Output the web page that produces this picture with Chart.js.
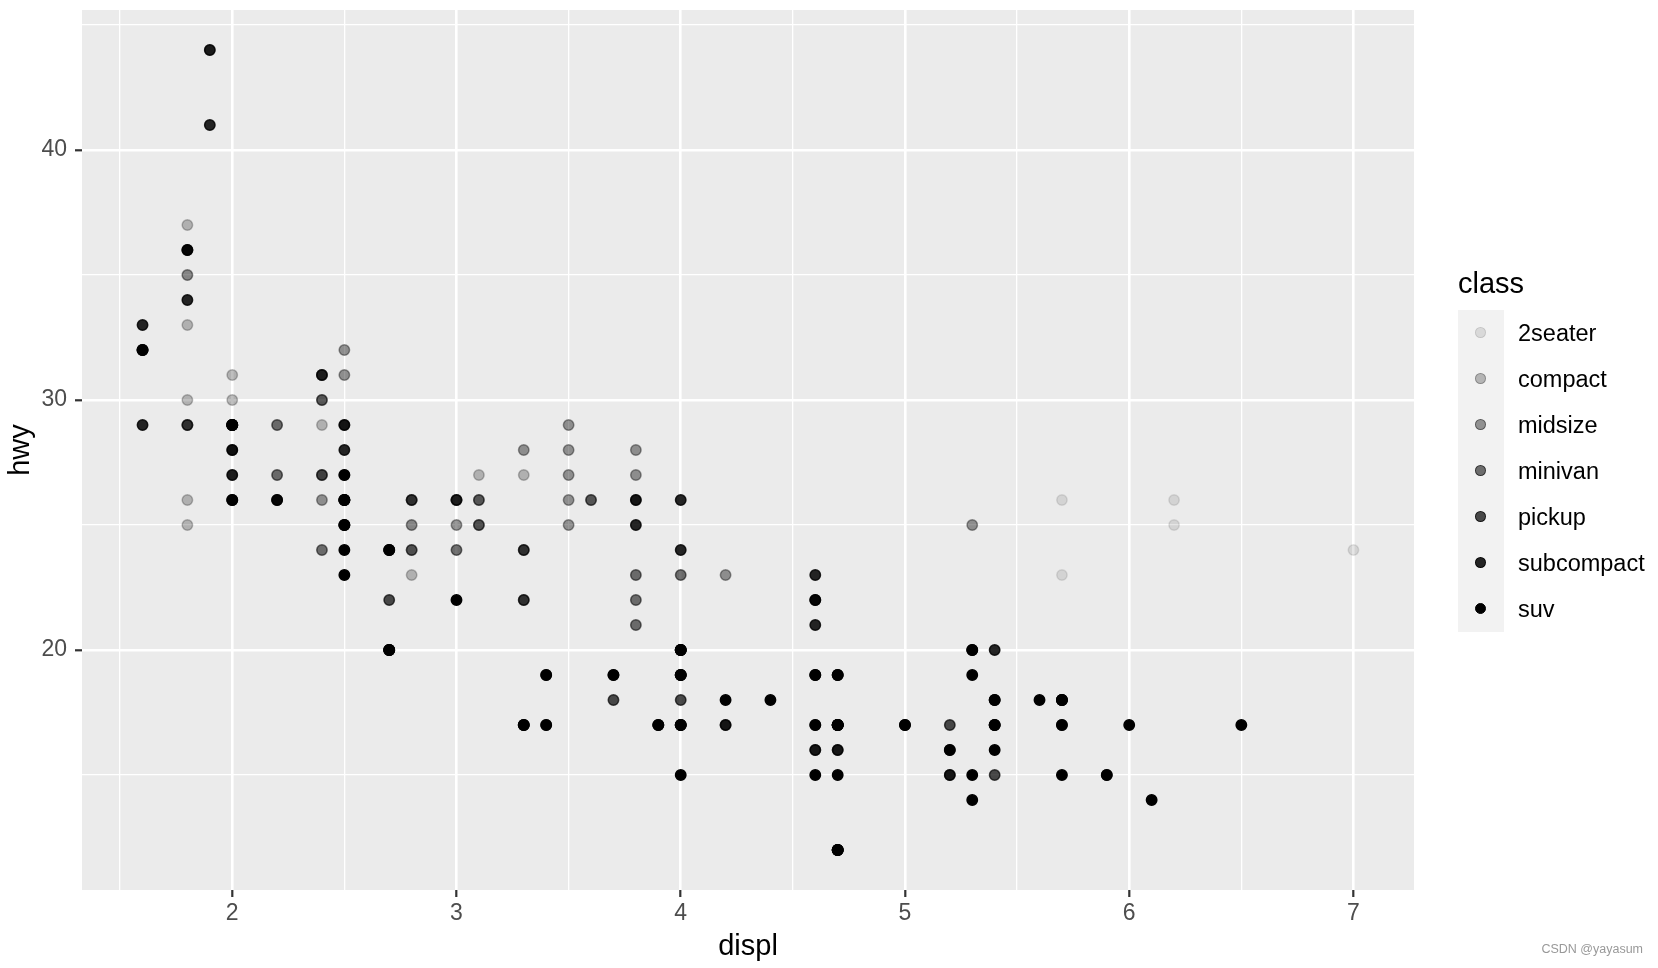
<!DOCTYPE html>
<html>
<head>
<meta charset="utf-8">
<script src="https://cdn.jsdelivr.net/npm/chart.js@4.4.1/dist/chart.umd.min.js"></script>
<style>
  html, body { margin: 0; padding: 0; background: #ffffff; }
  #wrap { position: relative; width: 1658px; height: 968px; font-family: "Liberation Sans", Arial, sans-serif; }
  #c { position: absolute; left: 0; top: 0; }
  .lg-title { position: absolute; left: 1458px; top: 266px; font-size: 29px; line-height: 34px; color: #000; }
  .lg-keys { position: absolute; left: 1458px; top: 310px; width: 46px; background: #F2F2F2; }
  .lg-key { position: relative; width: 46px; height: 46px; }
  .lg-dot { position: absolute; left: 17px; top: 17px; width: 9px; height: 9px; border-radius: 50%; border-style: solid; border-width: 1.5px; }
  .lg-label { position: absolute; left: 1518px; font-size: 23.5px; line-height: 46px; height: 46px; color: #000; white-space: nowrap; }
  .wm { position: absolute; right: 15px; top: 942px; font-size: 12.5px; color: #999999; font-family: "Liberation Sans", Arial, sans-serif; }
</style>
</head>
<body>
<div id="wrap">
  <canvas id="c" width="1658" height="968"></canvas>
  <div id="legend"></div>
  <div class="wm">CSDN @yayasum</div>
</div>
<script>
// ---- data (ggplot2 mpg: displ vs hwy, alpha mapped to class) ----
const classes = ["2seater", "compact", "midsize", "minivan", "pickup", "subcompact", "suv"];

const displ_2seater = [5.7, 5.7, 6.2, 6.2, 7.0];
const hwy_2seater   = [26, 23, 26, 25, 24];

const displ_compact = [1.8,1.8,2.0,2.0,2.8,2.8,3.1, 1.8,1.8,2.0,2.0,2.8,2.8,3.1,3.1, 2.4,2.4, 2.5,2.5,2.5,2.5,
                       2.2,2.2,2.4,2.4,3.0,3.0,3.3, 1.8,1.8,1.8,1.8,1.8, 2.0,2.0,2.0,2.0,2.8,
                       1.9,2.0,2.0,2.0,2.0,2.5,2.5,2.8,2.8];
const hwy_compact   = [29,29,31,30,26,26,27, 26,25,28,27,25,25,25,25, 29,27, 25,27,25,27,
                       27,29,31,31,26,26,27, 30,33,35,37,35, 29,26,29,29,24,
                       44,29,26,29,29,29,29,23,24];

const displ_midsize = [2.8,3.1,4.2, 2.4,2.4,3.1,3.5,3.6, 2.4,2.4,2.4,2.4,2.5,2.5,3.3, 2.5,2.5,3.5,3.5,
                       3.0,3.0,3.5, 3.1,3.8,3.8,3.8,5.3, 2.2,2.2,2.4,2.4,3.0,3.0,3.5,
                       1.8,1.8,2.0,2.0,2.8,2.8,3.6];
const hwy_midsize   = [24,25,23, 27,30,26,29,26, 26,27,30,31,26,26,28, 31,32,27,26,
                       26,25,25, 26,26,27,28,25, 29,27,31,31,26,26,28,
                       29,29,28,29,26,26,26];

const displ_minivan = [2.4,3.0,3.3,3.3,3.3,3.3,3.3,3.8,3.8,3.8,4.0];
const hwy_minivan   = [24,24,22,22,24,24,17,22,21,23,23];

const displ_pickup  = [3.7,3.7,3.9,3.9,4.7,4.7,4.7,5.2,5.2, 4.7,4.7,4.7,4.7,4.7,4.7,5.2,5.2,5.7,5.9,
                       4.2,4.2,4.6,4.6,4.6,5.4,5.4, 2.7,2.7,2.7,3.4,3.4,4.0,4.0];
const hwy_pickup    = [19,18,17,17,19,19,12,17,15, 16,12,17,17,16,12,15,16,17,15,
                       17,17,16,16,17,15,17, 20,20,22,17,19,18,20];

const displ_subcompact = [3.8,3.8,4.0,4.0,4.6,4.6,4.6,4.6,5.4, 1.6,1.6,1.6,1.6,1.6,1.8,1.8,1.8,2.0,
                          2.0,2.0,2.0,2.0,2.7,2.7,2.7, 2.2,2.2,2.5,2.5, 1.9,1.9,2.0,2.0,2.5,2.5];
const hwy_subcompact   = [26,25,26,24,21,22,23,22,20, 33,32,32,29,32,34,36,36,29,
                          26,29,28,27,24,24,24, 26,26,26,26, 44,41,29,26,28,29];

const displ_suv = [5.3,5.3,5.3,5.7,6.0, 5.3,5.3,5.7,6.5, 3.9,4.7,4.7,4.7,5.2,5.7,5.9, 4.6,5.4,5.4,
                   4.0,4.0,4.0,4.0,4.6,5.0, 3.0,3.7,4.0,4.7,4.7,4.7,5.7,6.1, 4.0,4.2,4.4,4.6,
                   5.4,5.4,5.4, 4.0,4.0,4.6,5.0, 3.3,3.3,4.0,5.6, 2.5,2.5,2.5,2.5,2.5,2.5,
                   2.7,2.7,3.4,3.4,4.0,4.7, 4.7,5.7];
const hwy_suv   = [20,15,20,17,17, 19,14,15,17, 17,17,12,17,16,18,15, 17,17,18,
                   17,19,17,19,19,17, 22,19,20,17,12,19,18,14, 15,18,18,15,
                   17,16,18, 17,19,19,17, 17,17,20,18, 25,24,27,25,26,23,
                   20,20,19,17,20,17, 15,18];

const xTicks = [1.5, 2, 2.5, 3, 3.5, 4, 4.5, 5, 5.5, 6, 6.5, 7];
const yTicks = [15, 20, 25, 30, 35, 40, 45];
const xMajor = [2, 3, 4, 5, 6, 7];
const yMajor = [20, 30, 40];

const xRange = [1.33, 7.27];
const yRange = [10.4, 45.6];

// ---- build ----
const seriesX = [displ_2seater, displ_compact, displ_midsize, displ_minivan, displ_pickup, displ_subcompact, displ_suv];
const seriesY = [hwy_2seater, hwy_compact, hwy_midsize, hwy_minivan, hwy_pickup, hwy_subcompact, hwy_suv];

function alphaFor(i) { return 0.1 + 0.9 * i / (classes.length - 1); }

const datasets = classes.map((cls, i) => {
  const a = alphaFor(i);
  const col = 'rgba(0,0,0,' + a.toFixed(3) + ')';
  return {
    label: cls,
    data: seriesX[i].map((x, j) => ({ x: x, y: seriesY[i][j] })),
    backgroundColor: col,
    borderColor: col,
    borderWidth: 1.5,
    pointRadius: 5.2,
    pointHoverRadius: 5.2
  };
});

const FONT = '"Liberation Sans", Arial, sans-serif';

const panelBg = {
  id: 'panelBg',
  beforeDraw(chart) {
    const { ctx, chartArea: a } = chart;
    ctx.save();
    ctx.fillStyle = '#EBEBEB';
    ctx.fillRect(a.left, a.top, a.right - a.left, a.bottom - a.top);
    ctx.restore();
  }
};

const isMajorX = v => xMajor.indexOf(v) >= 0;
const isMajorY = v => yMajor.indexOf(v) >= 0;

new Chart(document.getElementById('c'), {
  type: 'scatter',
  data: { datasets: datasets },
  plugins: [panelBg],
  options: {
    responsive: false,
    animation: false,
    devicePixelRatio: 1,
    events: [],
    layout: { padding: { left: 0, right: 244, top: 10, bottom: 0 } },
    plugins: { legend: { display: false }, tooltip: { enabled: false } },
    scales: {
      x: {
        type: 'linear',
        min: xRange[0], max: xRange[1],
        afterBuildTicks: s => { s.ticks = xTicks.map(v => ({ value: v })); },
        afterFit: s => { s.height = 78; s.paddingLeft = 0; s.paddingRight = 0; },
        border: { display: false },
        grid: {
          color: '#FFFFFF',
          lineWidth: c => isMajorX(c.tick.value) ? 2.6 : 1.3,
          drawTicks: true,
          tickLength: 7,
          tickWidth: 2.2,
          tickColor: c => isMajorX(c.tick.value) ? '#333333' : 'rgba(0,0,0,0)'
        },
        ticks: {
          autoSkip: false, maxRotation: 0, padding: 3,
          color: '#4D4D4D', font: { family: FONT, size: 23 },
          callback: v => isMajorX(v) ? String(v) : ''
        },
        title: { display: true, text: 'displ', color: '#000000', font: { family: FONT, size: 29 }, padding: { top: 4, bottom: 4 } }
      },
      y: {
        type: 'linear',
        min: yRange[0], max: yRange[1],
        afterBuildTicks: s => { s.ticks = yTicks.map(v => ({ value: v })); },
        afterFit: s => { s.width = 82; s.paddingTop = 0; s.paddingBottom = 0; },
        border: { display: false },
        grid: {
          color: '#FFFFFF',
          lineWidth: c => isMajorY(c.tick.value) ? 2.6 : 1.3,
          drawTicks: true,
          tickLength: 7,
          tickWidth: 2.2,
          tickColor: c => isMajorY(c.tick.value) ? '#333333' : 'rgba(0,0,0,0)'
        },
        ticks: {
          autoSkip: false, padding: 8,
          color: '#4D4D4D', font: { family: FONT, size: 23 },
          callback: v => isMajorY(v) ? String(v) : ''
        },
        title: { display: true, text: 'hwy', color: '#000000', font: { family: FONT, size: 29 }, padding: { top: 4, bottom: 4 } }
      }
    }
  }
});

// ---- legend (HTML, built from classes) ----
(function buildLegend() {
  const host = document.getElementById('legend');
  const title = document.createElement('div');
  title.className = 'lg-title';
  title.textContent = 'class';
  host.appendChild(title);
  const keys = document.createElement('div');
  keys.className = 'lg-keys';
  host.appendChild(keys);
  classes.forEach((cls, i) => {
    const a = alphaFor(i);
    const col = 'rgba(0,0,0,' + a.toFixed(3) + ')';
    const key = document.createElement('div');
    key.className = 'lg-key';
    const dot = document.createElement('div');
    dot.className = 'lg-dot';
    dot.style.background = col;
    dot.style.borderColor = col;
    key.appendChild(dot);
    keys.appendChild(key);
    const lab = document.createElement('div');
    lab.className = 'lg-label';
    lab.style.top = (310 + 46 * i) + 'px';
    lab.textContent = cls;
    host.appendChild(lab);
  });
})();
</script>
</body>
</html>
